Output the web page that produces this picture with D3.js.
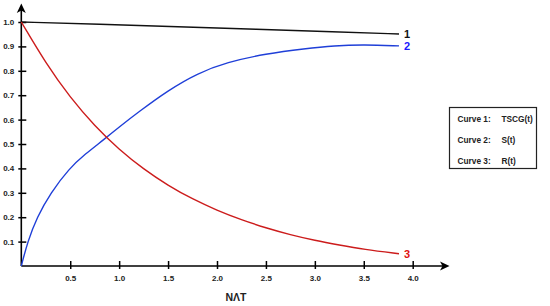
<!DOCTYPE html>
<html><head><meta charset="utf-8">
<script src="https://cdn.jsdelivr.net/npm/d3@7"></script>
<style>body{margin:0;background:#fff}svg{display:block}text{font-family:"Liberation Sans",Arial,sans-serif;font-weight:bold}</style>
</head><body><svg id="c" width="550" height="306"></svg>
<script>
const xTicks = [0.5,1.0,1.5,2.0,2.5,3.0,3.5,4.0];
const yTicks = [0.1,0.2,0.3,0.4,0.5,0.6,0.7,0.8,0.9,1.0];
const curve1 = [[0,1.0],[0.8,0.991],[1.6,0.981],[2.4,0.970],[3.2,0.960],[3.86,0.951]];
const curve2 = [[0,0],[0.065,0.1],[0.16,0.2],[0.3,0.3],[0.49,0.4],[0.65,0.458],[0.85,0.52],[1.0,0.57],[1.2,0.632],[1.5,0.72],[1.8,0.79],[2.1,0.835],[2.5,0.87],[2.9,0.891],[3.2,0.903],[3.5,0.907],[3.86,0.902]];
const curve3 = [[0,1.0],[0.25,0.831],[0.5,0.690],[0.75,0.574],[1.0,0.477],[1.25,0.397],[1.5,0.330],[1.75,0.274],[2.0,0.228],[2.25,0.189],[2.5,0.156],[2.75,0.128],[3.0,0.105],[3.25,0.086],[3.5,0.068],[3.86,0.050]];
const curveLabels = ["1","2","3"];
const legendNames = ["Curve 1:","Curve 2:","Curve 3:"];
const legendFuncs = ["TSCG(t)","S(t)","R(t)"];
const colors = ["#111111","#1f3fd8","#cc1c1c"];
const labelColors = ["#111111","#1a1aff","#e01010"];
const xLabel = "NΛT";

const svg = d3.select("#c");
const x = d3.scaleLinear().domain([0,4]).range([21.3,412.7]);
const y = d3.scaleLinear().domain([0,1]).range([266,22]);

// axes
const ax = svg.append("g").attr("transform","translate(0,266)")
  .call(d3.axisBottom(x).tickValues(xTicks).tickFormat(d3.format(".1f")).tickSize(3).tickPadding(6));
ax.select(".domain").remove();
ax.selectAll(".tick line").attr("y1",-5).attr("y2",3).attr("stroke","#000").attr("stroke-width",1.5);
ax.selectAll(".tick text").attr("font-size",8).attr("font-family","Liberation Sans, Arial, sans-serif").attr("font-weight","bold").attr("fill","#222");

const ay = svg.append("g").attr("transform","translate(21.3,0)")
  .call(d3.axisLeft(y).tickValues(yTicks).tickFormat(d3.format(".1f")).tickSize(3).tickPadding(4));
ay.select(".domain").remove();
ay.selectAll(".tick line").attr("x1",-3).attr("x2",5).attr("stroke","#000").attr("stroke-width",1.5);
ay.selectAll(".tick text").attr("font-size",8).attr("font-family","Liberation Sans, Arial, sans-serif").attr("font-weight","bold").attr("fill","#222");

svg.append("line").attr("x1",21.3).attr("x2",443).attr("y1",266).attr("y2",266).attr("stroke","#000").attr("stroke-width",1.6);
svg.append("line").attr("x1",21.3).attr("x2",21.3).attr("y1",266).attr("y2",10).attr("stroke","#000").attr("stroke-width",1.6);
svg.append("path").attr("d","M449.5,266 L440,261.5 L442.5,266 L440,270.5 Z").attr("fill","#000");
svg.append("path").attr("d","M21.3,3.5 L16.8,13 L21.3,10.5 L25.8,13 Z").attr("fill","#000");

const line = d3.line().x(d=>x(d[0])).y(d=>y(d[1])).curve(d3.curveBasis);
[curve1,curve2,curve3].forEach((c,i)=>{
  svg.append("path").attr("d",line(c)).attr("fill","none").attr("stroke",colors[i]).attr("stroke-width",1.4);
  const last = c[c.length-1];
  svg.append("text").attr("x",x(last[0])+5).attr("y",y(last[1])+4).attr("font-size",11)
    .attr("fill",labelColors[i]).text(curveLabels[i]);
});

svg.append("text").attr("x",236).attr("y",301).attr("text-anchor","middle").attr("font-size",10.5).attr("fill","#222").text(xLabel);

// legend
svg.append("rect").attr("x",449.5).attr("y",107.5).attr("width",87).attr("height",61).attr("fill","#fff").attr("stroke","#222").attr("stroke-width",1.2);
legendNames.forEach((n,i)=>{
  const yy = 121.5 + i*21;
  svg.append("text").attr("x",457.5).attr("y",yy).attr("font-size",8.3).attr("fill","#222").text(n);
  svg.append("text").attr("x",501.5).attr("y",yy).attr("font-size",8.3).attr("fill","#222").text(legendFuncs[i]);
});
</script></body></html>
